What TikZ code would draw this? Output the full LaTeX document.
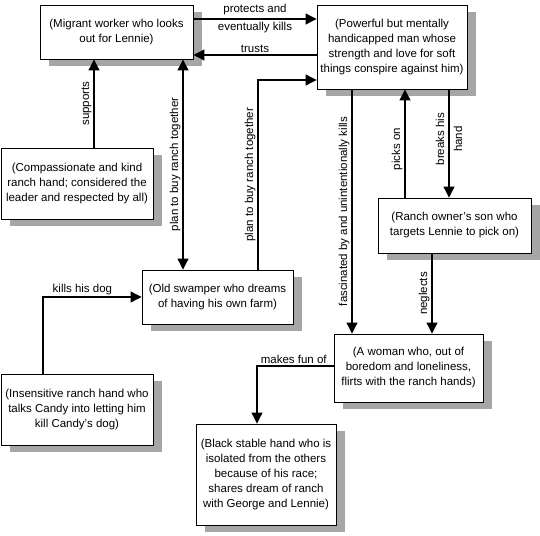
\documentclass[tikz,border=0pt]{standalone}
\usepackage{fontspec}
\setmainfont{Liberation Sans}
\usetikzlibrary{arrows.meta,shadows}

\begin{document}
\begin{tikzpicture}[x=1pt,y=-1pt,line width=1.1pt,
    font=\fontsize{11.5}{15}\selectfont,
    >={Triangle[length=11pt,width=11pt]},
    box/.style={draw=black,line width=0.9pt,fill=white,align=center,inner sep=2pt,
      drop shadow={shadow xshift=9pt,shadow yshift=-7pt,draw=none,fill=black!35,opacity=1}},
    lab/.style={inner sep=2pt}]

      \useasboundingbox (0,0) rectangle (540,535);

      \node[box,minimum width=153pt,minimum height=54pt] (g) at (116.5,32){(Migrant worker who looks\\out for Lennie)};
      \node[box,minimum width=150pt,minimum height=84pt] (l) at (392,47){(Powerful but mentally\\handicapped man whose\\strength and love for soft\\things conspire against him)};
      \node[box,minimum width=152pt,minimum height=71pt] (s) at (77,183.5){(Compassionate and kind\\ranch hand; considered the\\leader and respected by all)};
      \node[box,minimum width=151pt,minimum height=54pt] (c) at (217.5,297){(Old swamper who dreams\\of having his own farm)};
      \node[box,minimum width=152pt,minimum height=71pt] (k) at (77,409.5){(Insensitive ranch hand who\\talks Candy into letting him\\kill Candy’s dog)};
      \node[box,minimum width=153pt,minimum height=55pt] (u) at (454.5,225.5){(Ranch owner’s son who\\targets Lennie to pick on)};
      \node[box,minimum width=149pt,minimum height=68pt] (w) at (408.5,368){(A woman who, out of\\boredom and loneliness,\\flirts with the ranch hands)};
      \node[box,minimum width=140pt,minimum height=101pt] (r) at (266,474.5){(Black stable hand who is\\isolated from the others\\because of his race;\\shares dream of ranch\\with George and Lennie)};

      \draw[->] ([yshift=13pt]g.east) -- ([yshift=28pt]l.west) node[midway,align=center,lab]{protects and\\[3pt]eventually kills};
      \draw[->] ([yshift=-8pt]l.west) -- ([yshift=-23pt]g.east) node[midway,above,lab]{trusts};
      \draw[->] ([xshift=17pt]s.north) -- ([xshift=-22.5pt]g.south) node[midway,rotate=90,anchor=south,lab]{supports};
      \draw[<->] ([xshift=66.5pt]g.south) -- ([xshift=-34.5pt]c.north) node[midway,rotate=90,anchor=south,lab]{plan to buy ranch together};
      \draw[->] ([xshift=40.5pt]c.north) |- ([yshift=-33pt]l.west) node[pos=0.25,rotate=90,anchor=south,lab]{plan to buy ranch together};
      \draw[->] ([xshift=-34pt]k.north) |- (c.west) node[pos=0.7,above,lab]{kills his dog};
      \draw[->] ([xshift=-40pt]l.south) -- ([xshift=-56.5pt]w.north) node[midway,rotate=90,anchor=south,lab]{fascinated by and unintentionally kills};
      \draw[->] ([xshift=-49.5pt]u.north) -- ([xshift=13pt]l.south) node[pos=0.45,rotate=90,anchor=south,lab]{picks on};
      \draw[->] ([xshift=57pt]l.south) -- ([xshift=-5.5pt]u.north) node[pos=0.46,rotate=90,align=center,lab]{breaks his\\[3pt]hand};
      \draw[->] ([xshift=-22.5pt]u.south) -- ([xshift=23.5pt]w.north) node[midway,rotate=90,anchor=south,lab]{neglects};
      \draw[->] ([yshift=2pt]w.west) -| ([xshift=-9pt]r.north) node[pos=0.26,above,lab]{makes fun of};
    \end{tikzpicture}
\end{document}
